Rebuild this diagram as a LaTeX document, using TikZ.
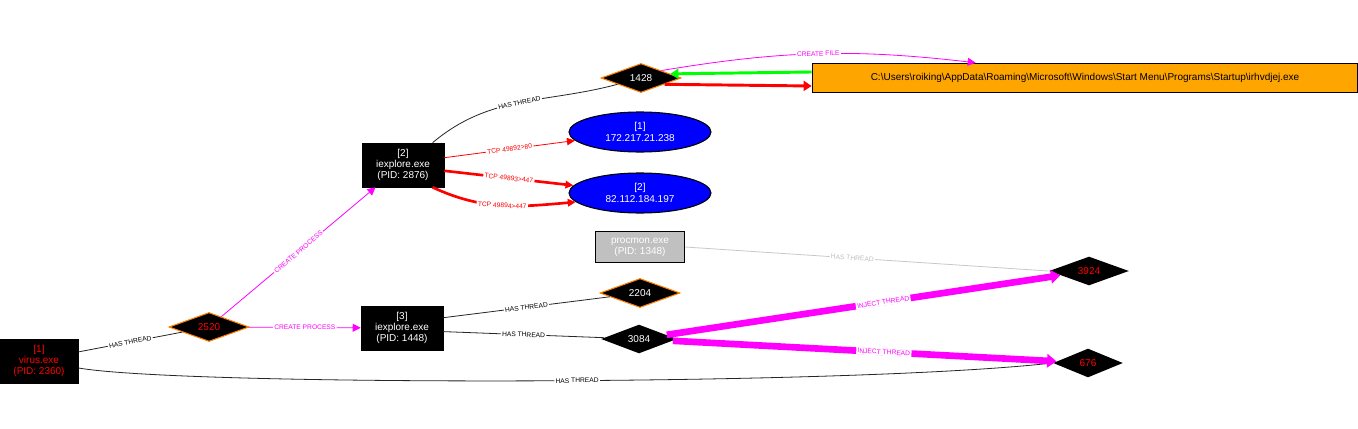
\documentclass[tikz,border=0pt]{standalone}
\usepackage{fontspec}
\setmainfont{Liberation Sans}
\usetikzlibrary{arrows.meta, shapes.geometric}

\definecolor{mag}{HTML}{FF00FF}
\definecolor{ipblue}{HTML}{0000FF}
\definecolor{fileorange}{HTML}{FFA500}
\definecolor{procgray}{HTML}{C0C0C0}
\definecolor{lightline}{HTML}{C8C8C8}
\definecolor{lime}{HTML}{00FF00}

\begin{document}
\begin{tikzpicture}[
    x=0.75pt, y=-0.75pt,
    proc/.style={draw=black, fill=black, rectangle, minimum width=61.5pt, minimum height=33pt, inner sep=1pt, align=center, text=white, font=\fontsize{7.5}{8.4}\selectfont},
    thread/.style={diamond, aspect=3, fill=black, line width=0.8pt, minimum width=60pt, minimum height=21.75pt, inner sep=0pt, text=white, font=\fontsize{7.5}{9}\selectfont},
    ipaddr/.style={ellipse, draw=black, line width=0.8pt, fill=ipblue, minimum width=106.5pt, minimum height=30pt, inner sep=0pt, align=center, text=white, font=\fontsize{7.5}{8.4}\selectfont},
    filebox/.style={draw=black, line width=1.1pt, fill=fileorange, minimum width=409pt, minimum height=21.75pt, font=\fontsize{7.5}{9}\selectfont},
    lbl/.style={sloped, fill=white, inner sep=1pt, font=\fontsize{5}{6}\selectfont},
    hasthr/.style={draw=black!85, line width=0.6pt},
    create/.style={draw=mag, line width=0.6pt, -{Triangle[length=6pt,width=6pt]}},
    tcp/.style={draw=red, line width=0.6pt, -{Triangle[length=6pt,width=5.5pt]}},
    inject/.style={draw=mag, line width=5pt, -{Triangle[length=7pt,width=10pt]}}
]
\fill[white] (0,0) rectangle (1358,428);
\useasboundingbox (0,0) rectangle (1358,428);

% Processes
\node[proc, text=red, minimum width=58.5pt] (virus) at (39,361) {[1]\\virus.exe\\(PID: 2360)};
\node[proc] (ie2) at (403,165) {[2]\\iexplore.exe\\(PID: 2876)};
\node[proc] (ie3) at (402,328) {[3]\\iexplore.exe\\(PID: 1448)};
\node[proc, fill=procgray, line width=1pt, minimum width=66.75pt, minimum height=23.25pt] (procmon) at (640,247) {procmon.exe\\(PID: 1348)};

% Threads
\node[thread, draw=orange, text=red] (t2520) at (209,327) {2520};
\node[thread, draw=orange] (t1428) at (641,78) {1428};
\node[thread, draw=orange] (t2204) at (640,293) {2204};
\node[thread, minimum width=57pt] (t3084) at (639,339) {3084};
\node[thread, text=red] (t3924) at (1089,271) {3924};
\node[thread, text=red, minimum width=52.5pt] (t676) at (1088,363) {676};

% Remote hosts
\node[ipaddr] (ip1) at (640,132) {[1]\\172.217.21.238};
\node[ipaddr] (ip2) at (640,193) {[2]\\82.112.184.197};

% Dropped file
\node[filebox] (startup) at (1085,78) {C:\textbackslash Users\textbackslash roiking\textbackslash AppData\textbackslash Roaming\textbackslash Microsoft\textbackslash Windows\textbackslash Start Menu\textbackslash Programs\textbackslash Startup\textbackslash irhvdjej.exe};

% virus.exe
\draw[hasthr] (virus.13) -- node[lbl]{HAS THREAD} (t2520);
\draw[hasthr] (virus.-10) .. controls (180,386) and (850,386) .. node[lbl, pos=0.54]{HAS THREAD} (t676.west);
\draw[create] (t2520) -- node[lbl, text=mag]{CREATE PROCESS} (ie2.219);
\draw[create] (t2520) -- node[lbl, text=mag]{CREATE PROCESS} (ie3);

% iexplore 2876
\draw[hasthr] (ie2.37) to[out=40, in=195] node[lbl]{HAS THREAD} (t1428);
\draw[tcp] (ie2.10) -- node[lbl, text=red]{TCP 49892>80} (ip1);
\draw[tcp, line width=2pt] (ie2.-8) -- node[lbl, text=red]{TCP 49893>447} (ip2);
\draw[tcp, line width=2pt] (ie2.-37) to[out=-25, in=185] node[lbl, text=red]{TCP 49894>447} (ip2.188);

% 1428 and the file
\draw[red, line width=2.2pt, -{Triangle[length=6pt,width=7.5pt]}] (t1428.-15) -- ([yshift=-6pt]startup.west);
\draw[lime, line width=2.2pt, -{Triangle[length=6pt,width=7.5pt]}] ([yshift=4.5pt]startup.west) -- (t1428.8);
\draw[create] (t1428.20) to[bend left=8] node[lbl, text=mag]{CREATE FILE} ([xshift=-82pt]startup.north);

% iexplore 1448
\draw[hasthr] (ie3.14) -- node[lbl]{HAS THREAD} (t2204);
\draw[hasthr] (ie3.-5) -- node[lbl]{HAS THREAD} (t3084);

% procmon
\draw[lightline, line width=0.6pt] (procmon.east) -- node[lbl, pos=0.46, text=procgray]{HAS THREAD} (t3924.west);

% Injections
\draw[inject] (t3084) -- node[lbl, pos=0.55, text=mag]{INJECT THREAD} (t3924);
\draw[inject] (t3084) -- node[lbl, pos=0.55, text=mag]{INJECT THREAD} (t676);

\end{tikzpicture}
\end{document}
